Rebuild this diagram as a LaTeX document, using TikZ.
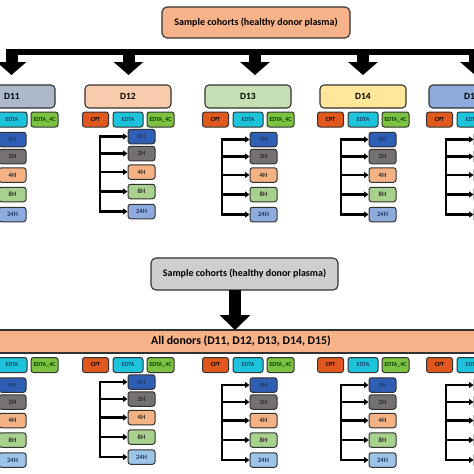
\documentclass[tikz,border=0pt]{standalone}
\usepackage{fontspec}
\setmainfont{Carlito}
\usetikzlibrary{arrows.meta, positioning}
\definecolor{boxline}{RGB}{50,50,50}
\definecolor{cohortpeach}{RGB}{246,178,136}
\definecolor{cohortgrey}{RGB}{206,206,206}
\definecolor{d11fill}{RGB}{173,185,202}
\definecolor{d12fill}{RGB}{248,203,173}
\definecolor{d13fill}{RGB}{197,224,180}
\definecolor{d14fill}{RGB}{255,230,153}
\definecolor{d15fill}{RGB}{143,170,220}
\definecolor{cptfill}{RGB}{224,88,30}
\definecolor{edtafill}{RGB}{28,195,219}
\definecolor{edtacfill}{RGB}{125,193,66}
\definecolor{h0fill}{RGB}{47,95,181}
\definecolor{h2fill}{RGB}{118,113,113}
\definecolor{h4fill}{RGB}{244,177,131}
\definecolor{h8fill}{RGB}{169,209,142}
\definecolor{h24topfill}{RGB}{143,170,220}
\definecolor{h24botfill}{RGB}{157,195,230}
\definecolor{navytext}{RGB}{31,56,100}
\tikzset{
  headbox/.style={rectangle, rounded corners=5pt, draw=boxline, line width=1.1pt,
                  fill=#1, minimum width=188pt, minimum height=31pt, inner sep=0pt,
                  font=\bfseries\fontsize{10}{11}\selectfont},
  donorbox/.style={rectangle, rounded corners=4pt, draw=boxline, line width=1.1pt,
                   fill=#1, minimum width=86pt, minimum height=23pt, inner sep=0pt,
                   font=\bfseries\fontsize{9.5}{10}\selectfont},
  tubebox/.style={rectangle, rounded corners=2.5pt, draw=boxline, line width=1pt,
                  fill=#1, minimum height=15pt, inner sep=0pt,
                  font=\bfseries\fontsize{6}{7}\selectfont},
  timebox/.style={rectangle, rounded corners=2.5pt, draw=boxline, line width=1pt,
                  fill=#1, minimum width=27pt, minimum height=14.5pt, inner sep=0pt,
                  font=\bfseries\fontsize{6.6}{7}\selectfont},
  blockarrow/.style={line width=12pt, -{Triangle[length=13pt, width=29pt]}},
  bar/.style={line width=6pt},
  bracket/.style={line width=2.2pt},
  tick/.style={line width=2.2pt, -{Triangle[length=4.5pt, width=6pt]}},
}

\begin{document}
\begin{tikzpicture}[x=1pt, y=-1pt]
  \useasboundingbox (0,0) rectangle (474,474);
  \clip (0,0) rectangle (474,474);
  \fill[white] (0,0) rectangle (474,474);

  % first study: one box per donor
  \node[headbox=cohortpeach] (cohorts) at (256,22.5) {Sample cohorts (healthy donor plasma)};
  \coordinate (barL) at (5.5,52);
  \coordinate (barR) at (481,52);
  \draw[bar] (barL) -- (barR);
  \foreach \n/\cx/\ax in {11/12/11.5, 12/128/128.5, 13/248/255, 14/363/363, 15/472/475} {
    \node[donorbox=d\n fill] (d\n) at (\cx,96.5) {D\n};
    \coordinate (d\n-from) at (\ax,52);
    \coordinate (d\n-tip) at (\ax,75);
    \draw[blockarrow] (d\n-from) -- (d\n-tip);
  }

  % second study: donors pooled
  \node[headbox=cohortgrey, minimum width=187pt, minimum height=32pt] (cohorts2) at (244.5,274) {Sample cohorts (healthy donor plasma)};
  \node[rectangle, draw=boxline, line width=1.1pt, fill=cohortpeach, minimum width=520pt,
        minimum height=23pt, inner sep=0pt, font=\bfseries\fontsize{11.8}{13}\selectfont]
        (alldonors) at (241,341.5) {All donors (D11, D12, D13, D14, D15)};
  \coordinate (pool-from) at (235,290);
  \coordinate (pool-tip) at (235,330);
  \draw[blockarrow, -{Triangle[length=15pt, width=30pt]}] (pool-from) -- (pool-tip);

  % tubes and time points, same for both studies
  \foreach \row/\yo/\lastfill in {top/0/h24topfill, bot/245.5/h24botfill} {
    \foreach \n/\cx/\bx/\dy in {11/12/-29/0, 12/128/100/-3, 13/248/222/0, 14/363/341/0, 15/472/446/0} {
      \node[tubebox=edtafill, minimum width=30pt, text=navytext] (\row-\n-edta) at (\cx,119.5+\yo) {EDTA};
      \node[tubebox=cptfill, minimum width=26pt, left=3.5pt of \row-\n-edta] (\row-\n-cpt) {CPT};
      \node[tubebox=edtacfill, minimum width=27pt, right=3pt of \row-\n-edta, text=black!75!green] (\row-\n-edtac) {EDTA\_4C};
      \foreach \t/\ty/\tfill/\tcol in {0H/139.5/h0fill/navytext, 2H/156.5/h2fill/black!85, 4H/175/h4fill/black!85,
                                       8H/194.5/h8fill/black!85, 24H/214.5/\lastfill/navytext} {
        \node[timebox=\tfill, text=\tcol] (\row-\n-\t) at (\bx+41.5,\ty+\yo+\dy) {\t};
        \coordinate (\row-\n-\t-b) at (\bx,\ty+\yo+\dy);
        \draw[tick] (\row-\n-\t-b) -- (\row-\n-\t.west);
      }
      \draw[bracket] ([yshift=1.1pt]\row-\n-0H-b) -- ([yshift=-1.1pt]\row-\n-24H-b);
    }
  }
\end{tikzpicture}
\end{document}
